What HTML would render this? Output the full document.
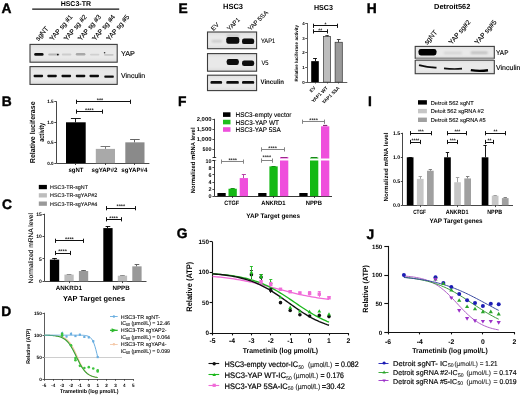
<!DOCTYPE html>
<html><head><meta charset="utf-8"><title>Figure</title>
<style>
html,body{margin:0;padding:0;background:#fff;width:520px;height:396px;overflow:hidden}
svg{display:block}
text{font-family:"Liberation Sans", Arial, sans-serif;text-rendering:geometricPrecision}
</style></head><body>
<svg width="520" height="396" viewBox="0 0 520 396">
<defs>
<filter id="bl045" x="-0.3" y="-1" width="1.6" height="3"><feGaussianBlur stdDeviation="0.45"/></filter>
<filter id="bl08" x="-0.3" y="-1" width="1.6" height="3"><feGaussianBlur stdDeviation="0.8"/></filter>
<linearGradient id="boxg" x1="0" y1="0" x2="0" y2="1"><stop offset="0" stop-color="#dedede"/><stop offset="0.25" stop-color="#e9e9e9"/><stop offset="0.75" stop-color="#e9e9e9"/><stop offset="1" stop-color="#dcdcdc"/></linearGradient>
</defs>
<rect width="520" height="396" fill="#fff"/>
<text x="1.5" y="12.7" font-size="13.8" font-weight="bold" stroke="#000" stroke-width="0.4">A</text>
<text x="75.8" y="5.6" font-size="7" font-weight="bold" text-anchor="middle">HSC3-TR</text>
<line x1="32.2" y1="9.2" x2="119.2" y2="9.2" stroke="#111" stroke-width="1.3"/>
<text x="38.5" y="41.2" font-size="6.8" stroke="#000" stroke-width="0.13" transform="rotate(-50 38.5 41.2)">sgNT</text>
<text x="52.7" y="41.2" font-size="6.8" stroke="#000" stroke-width="0.13" transform="rotate(-50 52.7 41.2)">YAP sg #1</text>
<text x="66.9" y="41.2" font-size="6.8" stroke="#000" stroke-width="0.13" transform="rotate(-50 66.9 41.2)">YAP sg #2</text>
<text x="81.1" y="41.2" font-size="6.8" stroke="#000" stroke-width="0.13" transform="rotate(-50 81.1 41.2)">YAP sg #3</text>
<text x="95.3" y="41.2" font-size="6.8" stroke="#000" stroke-width="0.13" transform="rotate(-50 95.3 41.2)">YAP sg #4</text>
<text x="109.5" y="41.2" font-size="6.8" stroke="#000" stroke-width="0.13" transform="rotate(-50 109.5 41.2)">YAP sg #5</text>
<rect x="30" y="44.4" width="87.2" height="17.8" fill="url(#boxg)" stroke="#3c3c3c" stroke-width="1.1"/>
<rect x="30" y="66.6" width="87.2" height="17.8" fill="url(#boxg)" stroke="#3c3c3c" stroke-width="1.1"/>
<rect x="34.2" y="53" width="9.4" height="2.8" rx="1.4" fill="#0c0c0c" filter="url(#bl045)"/>
<rect x="48.2" y="53.5" width="11.3" height="2" rx="1" fill="#b8b8b8" filter="url(#bl045)"/>
<rect x="61.8" y="53.4" width="9.6" height="2" rx="1" fill="#cdcdcd" filter="url(#bl045)"/>
<rect x="75.8" y="53" width="9.6" height="2.4" rx="1.2" fill="#a8a8a8" filter="url(#bl045)"/>
<rect x="90" y="53.7" width="9.4" height="1.8" rx="0.9" fill="#d0d0d0" filter="url(#bl045)"/>
<rect x="104" y="53.9" width="9.6" height="1.8" rx="0.9" fill="#c6c6c6" filter="url(#bl045)"/>
<circle cx="57.8" cy="54.6" r="0.9" fill="#111"/>
<circle cx="104.6" cy="52.8" r="0.8" fill="#333"/>
<rect x="33.6" y="74.85" width="9.5" height="2.3" rx="0.8" fill="#0e0e0e" filter="url(#bl045)"/>
<rect x="47.3" y="74.85" width="9.5" height="2.3" rx="0.8" fill="#0e0e0e" filter="url(#bl045)"/>
<rect x="61.5" y="74.85" width="9.6" height="2.3" rx="0.8" fill="#0e0e0e" filter="url(#bl045)"/>
<rect x="75.8" y="74.85" width="9.5" height="2.3" rx="0.8" fill="#0e0e0e" filter="url(#bl045)"/>
<rect x="89.5" y="74.85" width="9.5" height="2.3" rx="0.8" fill="#0e0e0e" filter="url(#bl045)"/>
<rect x="104.3" y="75.55" width="9.5" height="2.3" rx="0.8" fill="#0e0e0e" filter="url(#bl045)"/>
<text x="121" y="55.5" font-size="7" stroke="#000" stroke-width="0.14" textLength="13.9" lengthAdjust="spacingAndGlyphs">YAP</text>
<text x="121" y="77.7" font-size="7" stroke="#000" stroke-width="0.14" textLength="24.2" lengthAdjust="spacingAndGlyphs">Vinculin</text>
<text x="1.8" y="105.7" font-size="13.8" font-weight="bold" stroke="#000" stroke-width="0.4">B</text>
<line x1="56.5" y1="101.35" x2="56.5" y2="163.2" stroke="#333" stroke-width="0.9"/>
<line x1="56.5" y1="163.5" x2="149.4" y2="163.5" stroke="#333" stroke-width="0.9"/>
<line x1="54.3" y1="163.5" x2="56.5" y2="163.5" stroke="#333" stroke-width="0.9"/>
<text x="53.6" y="164.8" font-size="4.6" font-weight="bold" text-anchor="end">0.0</text>
<line x1="54.3" y1="142.5" x2="56.5" y2="142.5" stroke="#333" stroke-width="0.9"/>
<text x="53.6" y="144.35" font-size="4.6" font-weight="bold" text-anchor="end">0.5</text>
<line x1="54.3" y1="122.5" x2="56.5" y2="122.5" stroke="#333" stroke-width="0.9"/>
<text x="53.6" y="123.9" font-size="4.6" font-weight="bold" text-anchor="end">1.0</text>
<line x1="54.3" y1="101.5" x2="56.5" y2="101.5" stroke="#333" stroke-width="0.9"/>
<text x="53.6" y="103.45" font-size="4.6" font-weight="bold" text-anchor="end">1.5</text>
<text x="35.2" y="132.3" font-size="7.2" font-weight="bold" text-anchor="middle" transform="rotate(-90 35.2 132.3)" textLength="61.8" lengthAdjust="spacingAndGlyphs">Relative luciferase</text>
<text x="44.1" y="132.3" font-size="7.2" font-weight="bold" text-anchor="middle" transform="rotate(-90 44.1 132.3)" textLength="19" lengthAdjust="spacingAndGlyphs">activity</text>
<rect x="66" y="122.3" width="19.7" height="40.9" fill="#000"/>
<line x1="75.5" y1="122.3" x2="75.5" y2="118.62" stroke="#000" stroke-width="0.9"/>
<line x1="70.92" y1="118.5" x2="80.77" y2="118.5" stroke="#000" stroke-width="0.9"/>
<rect x="95.8" y="148.88" width="19.2" height="14.31" fill="#a9a9a9"/>
<line x1="105.5" y1="148.88" x2="105.5" y2="146.84" stroke="#666" stroke-width="0.9"/>
<line x1="100.6" y1="146.5" x2="110.2" y2="146.5" stroke="#666" stroke-width="0.9"/>
<rect x="125.3" y="142.34" width="19.2" height="20.86" fill="#8a8a8a"/>
<line x1="134.5" y1="142.34" x2="134.5" y2="139.89" stroke="#555" stroke-width="0.9"/>
<line x1="130.1" y1="139.5" x2="139.7" y2="139.5" stroke="#555" stroke-width="0.9"/>
<line x1="75.5" y1="163.2" x2="75.5" y2="165" stroke="#333" stroke-width="0.9"/>
<line x1="105.5" y1="163.2" x2="105.5" y2="165" stroke="#333" stroke-width="0.9"/>
<line x1="134.5" y1="163.2" x2="134.5" y2="165" stroke="#333" stroke-width="0.9"/>
<line x1="76.2" y1="101.5" x2="130.8" y2="101.5" stroke="#111" stroke-width="1"/>
<line x1="76.5" y1="99.7" x2="76.5" y2="103.9" stroke="#111" stroke-width="1"/>
<line x1="130.5" y1="99.7" x2="130.5" y2="103.9" stroke="#111" stroke-width="1"/>
<text x="100" y="102" font-size="5.5" font-weight="bold" text-anchor="middle" fill="#111">***</text>
<line x1="76.2" y1="111.5" x2="102.5" y2="111.5" stroke="#111" stroke-width="1"/>
<line x1="76.5" y1="109.5" x2="76.5" y2="113.7" stroke="#111" stroke-width="1"/>
<line x1="102.5" y1="109.5" x2="102.5" y2="113.7" stroke="#111" stroke-width="1"/>
<text x="89.35" y="111.8" font-size="5.5" font-weight="bold" text-anchor="middle" fill="#111">****</text>
<text x="68.5" y="172.2" font-size="6.3" font-weight="bold" textLength="15" lengthAdjust="spacingAndGlyphs">sgNT</text>
<text x="91.5" y="172.2" font-size="6.3" font-weight="bold" textLength="26" lengthAdjust="spacingAndGlyphs">sgYAP#2</text>
<text x="121.3" y="172.2" font-size="6.3" font-weight="bold" textLength="26" lengthAdjust="spacingAndGlyphs">sgYAP#4</text>
<rect x="38.8" y="184.9" width="8.1" height="4.3" fill="#000"/>
<text x="50" y="189.1" font-size="5.4" stroke="#000" stroke-width="0.08">HSC3-TR-sgNT</text>
<rect x="38.8" y="193.2" width="8.1" height="4.3" fill="#bdbdbd"/>
<text x="50" y="197.4" font-size="5.4" stroke="#000" stroke-width="0.08">HSC3-TR-sgYAP#2</text>
<rect x="38.8" y="201.5" width="8.1" height="4.3" fill="#999"/>
<text x="50" y="205.7" font-size="5.4" stroke="#000" stroke-width="0.08">HSC3-TR-sgYAP#4</text>
<text x="2" y="209.2" font-size="13.8" font-weight="bold" stroke="#000" stroke-width="0.4">C</text>
<line x1="44.5" y1="213.75" x2="44.5" y2="281.3" stroke="#333" stroke-width="0.9"/>
<line x1="44.5" y1="281.5" x2="146.5" y2="281.5" stroke="#333" stroke-width="0.9"/>
<line x1="42.5" y1="281.5" x2="44.5" y2="281.5" stroke="#333" stroke-width="0.9"/>
<text x="41.8" y="283" font-size="5" font-weight="bold" text-anchor="end">0</text>
<line x1="42.5" y1="258.5" x2="44.5" y2="258.5" stroke="#333" stroke-width="0.9"/>
<text x="41.8" y="260.65" font-size="5" font-weight="bold" text-anchor="end">5</text>
<line x1="42.5" y1="236.5" x2="44.5" y2="236.5" stroke="#333" stroke-width="0.9"/>
<text x="41.8" y="238.3" font-size="5" font-weight="bold" text-anchor="end">10</text>
<line x1="42.5" y1="214.5" x2="44.5" y2="214.5" stroke="#333" stroke-width="0.9"/>
<text x="41.8" y="215.95" font-size="5" font-weight="bold" text-anchor="end">15</text>
<text x="32.6" y="248.2" font-size="6.6" text-anchor="middle" stroke="#000" stroke-width="0.11" transform="rotate(-90 32.6 248.2)" textLength="70.4" lengthAdjust="spacingAndGlyphs">Normalized mRNA level</text>
<rect x="49.9" y="259.62" width="9.3" height="21.68" fill="#000"/>
<line x1="54.5" y1="259.62" x2="54.5" y2="258.06" stroke="#000" stroke-width="0.9"/>
<line x1="52.22" y1="258.5" x2="56.88" y2="258.5" stroke="#000" stroke-width="0.9"/>
<rect x="64.4" y="274.6" width="9.3" height="6.7" fill="#bdbdbd"/>
<line x1="69.5" y1="274.6" x2="69.5" y2="274.15" stroke="#888" stroke-width="0.9"/>
<line x1="66.73" y1="274.5" x2="71.38" y2="274.5" stroke="#888" stroke-width="0.9"/>
<rect x="78.9" y="271.02" width="9.3" height="10.28" fill="#999"/>
<line x1="83.5" y1="271.02" x2="83.5" y2="270.12" stroke="#555" stroke-width="0.9"/>
<line x1="81.23" y1="270.5" x2="85.88" y2="270.5" stroke="#555" stroke-width="0.9"/>
<rect x="103.3" y="228.11" width="9.3" height="53.19" fill="#000"/>
<line x1="107.5" y1="228.11" x2="107.5" y2="226.32" stroke="#000" stroke-width="0.9"/>
<line x1="105.62" y1="226.5" x2="110.28" y2="226.5" stroke="#000" stroke-width="0.9"/>
<rect x="117.8" y="275.71" width="9.3" height="5.59" fill="#bdbdbd"/>
<line x1="122.5" y1="275.71" x2="122.5" y2="275.04" stroke="#888" stroke-width="0.9"/>
<line x1="120.12" y1="275.5" x2="124.78" y2="275.5" stroke="#888" stroke-width="0.9"/>
<rect x="132.3" y="266.33" width="9.3" height="14.97" fill="#999"/>
<line x1="136.5" y1="266.33" x2="136.5" y2="264.76" stroke="#555" stroke-width="0.9"/>
<line x1="134.63" y1="264.5" x2="139.28" y2="264.5" stroke="#555" stroke-width="0.9"/>
<line x1="69.5" y1="281.3" x2="69.5" y2="283.1" stroke="#333" stroke-width="0.9"/>
<line x1="122.5" y1="281.3" x2="122.5" y2="283.1" stroke="#333" stroke-width="0.9"/>
<line x1="55" y1="240.5" x2="83.8" y2="240.5" stroke="#111" stroke-width="1"/>
<line x1="55.5" y1="238.7" x2="55.5" y2="242.9" stroke="#111" stroke-width="1"/>
<line x1="83.5" y1="238.7" x2="83.5" y2="242.9" stroke="#111" stroke-width="1"/>
<text x="69.4" y="241" font-size="5.5" font-weight="bold" text-anchor="middle" fill="#111">****</text>
<line x1="55" y1="253.5" x2="70" y2="253.5" stroke="#111" stroke-width="1"/>
<line x1="55.5" y1="250.9" x2="55.5" y2="255.1" stroke="#111" stroke-width="1"/>
<line x1="70.5" y1="250.9" x2="70.5" y2="255.1" stroke="#111" stroke-width="1"/>
<text x="62.5" y="253.2" font-size="5.5" font-weight="bold" text-anchor="middle" fill="#111">****</text>
<line x1="106" y1="208.5" x2="135.6" y2="208.5" stroke="#111" stroke-width="1"/>
<line x1="106.5" y1="206.1" x2="106.5" y2="210.3" stroke="#111" stroke-width="1"/>
<line x1="135.5" y1="206.1" x2="135.5" y2="210.3" stroke="#111" stroke-width="1"/>
<text x="120.8" y="208.4" font-size="5.5" font-weight="bold" text-anchor="middle" fill="#111">****</text>
<line x1="106" y1="219.5" x2="121.2" y2="219.5" stroke="#111" stroke-width="1"/>
<line x1="106.5" y1="217.2" x2="106.5" y2="221.4" stroke="#111" stroke-width="1"/>
<line x1="121.5" y1="217.2" x2="121.5" y2="221.4" stroke="#111" stroke-width="1"/>
<text x="113.6" y="219.5" font-size="5.5" font-weight="bold" text-anchor="middle" fill="#111">****</text>
<text x="55.8" y="290.1" font-size="6.3" font-weight="bold" textLength="26.1" lengthAdjust="spacingAndGlyphs">ANKRD1</text>
<text x="112.4" y="290.1" font-size="6.3" font-weight="bold" textLength="17.3" lengthAdjust="spacingAndGlyphs">NPPB</text>
<text x="63" y="301.3" font-size="7.3" font-weight="bold" textLength="62" lengthAdjust="spacingAndGlyphs">YAP Target genes</text>
<text x="1.2" y="315.8" font-size="13.8" font-weight="bold" stroke="#000" stroke-width="0.4">D</text>
<line x1="44.5" y1="312.73" x2="44.5" y2="379" stroke="#333" stroke-width="0.8"/>
<line x1="44.3" y1="379.5" x2="133.3" y2="379.5" stroke="#333" stroke-width="0.8"/>
<line x1="42.5" y1="379.5" x2="44.3" y2="379.5" stroke="#333" stroke-width="0.8"/>
<text x="41.8" y="380.6" font-size="4.7" font-weight="bold" text-anchor="end">0</text>
<line x1="42.5" y1="357.5" x2="44.3" y2="357.5" stroke="#333" stroke-width="0.8"/>
<text x="41.8" y="358.68" font-size="4.7" font-weight="bold" text-anchor="end">50</text>
<line x1="42.5" y1="335.5" x2="44.3" y2="335.5" stroke="#333" stroke-width="0.8"/>
<text x="41.8" y="336.75" font-size="4.7" font-weight="bold" text-anchor="end">100</text>
<line x1="42.5" y1="313.5" x2="44.3" y2="313.5" stroke="#333" stroke-width="0.8"/>
<text x="41.8" y="314.83" font-size="4.7" font-weight="bold" text-anchor="end">150</text>
<line x1="44.5" y1="379" x2="44.5" y2="380.8" stroke="#333" stroke-width="0.8"/>
<text x="44.3" y="386.9" font-size="4.6" font-weight="bold" text-anchor="middle">-5</text>
<line x1="53.5" y1="379" x2="53.5" y2="380.8" stroke="#333" stroke-width="0.8"/>
<text x="53.2" y="386.9" font-size="4.6" font-weight="bold" text-anchor="middle">-4</text>
<line x1="62.5" y1="379" x2="62.5" y2="380.8" stroke="#333" stroke-width="0.8"/>
<text x="62.1" y="386.9" font-size="4.6" font-weight="bold" text-anchor="middle">-3</text>
<line x1="71.5" y1="379" x2="71.5" y2="380.8" stroke="#333" stroke-width="0.8"/>
<text x="71" y="386.9" font-size="4.6" font-weight="bold" text-anchor="middle">-2</text>
<line x1="79.5" y1="379" x2="79.5" y2="380.8" stroke="#333" stroke-width="0.8"/>
<text x="79.9" y="386.9" font-size="4.6" font-weight="bold" text-anchor="middle">-1</text>
<line x1="88.5" y1="379" x2="88.5" y2="380.8" stroke="#333" stroke-width="0.8"/>
<text x="88.8" y="386.9" font-size="4.6" font-weight="bold" text-anchor="middle">0</text>
<line x1="97.5" y1="379" x2="97.5" y2="380.8" stroke="#333" stroke-width="0.8"/>
<text x="97.7" y="386.9" font-size="4.6" font-weight="bold" text-anchor="middle">1</text>
<line x1="106.5" y1="379" x2="106.5" y2="380.8" stroke="#333" stroke-width="0.8"/>
<text x="106.6" y="386.9" font-size="4.6" font-weight="bold" text-anchor="middle">2</text>
<line x1="115.5" y1="379" x2="115.5" y2="380.8" stroke="#333" stroke-width="0.8"/>
<text x="115.5" y="386.9" font-size="4.6" font-weight="bold" text-anchor="middle">3</text>
<line x1="124.5" y1="379" x2="124.5" y2="380.8" stroke="#333" stroke-width="0.8"/>
<text x="124.4" y="386.9" font-size="4.6" font-weight="bold" text-anchor="middle">4</text>
<line x1="133.5" y1="379" x2="133.5" y2="380.8" stroke="#333" stroke-width="0.8"/>
<text x="133.3" y="386.9" font-size="4.6" font-weight="bold" text-anchor="middle">5</text>
<text x="60" y="393.2" font-size="5.6" font-weight="bold" textLength="58.6" lengthAdjust="spacingAndGlyphs">Trametinib (log µmol/L)</text>
<text x="30.4" y="346.3" font-size="5.4" font-weight="bold" text-anchor="middle" transform="rotate(-90 30.4 346.3)" textLength="35" lengthAdjust="spacingAndGlyphs">Relative (ATP)</text>
<line x1="44.3" y1="357.5" x2="122" y2="357.5" stroke="#c8c8c8" stroke-width="0.9"/>
<path d="M44.3 335.2 L45.19 335.21 L46.08 335.22 L46.97 335.23 L47.86 335.25 L48.75 335.27 L49.64 335.29 L50.53 335.32 L51.42 335.35 L52.31 335.4 L53.2 335.45 L54.09 335.5 L54.98 335.58 L55.87 335.66 L56.76 335.76 L57.65 335.88 L58.54 336.03 L59.43 336.2 L60.32 336.41 L61.21 336.66 L62.1 336.95 L62.99 337.29 L63.88 337.7 L64.77 338.18 L65.66 338.74 L66.55 339.4 L67.44 340.16 L68.33 341.03 L69.22 342.03 L70.11 343.16 L71 344.43 L71.89 345.84 L72.78 347.39 L73.67 349.06 L74.56 350.85 L75.45 352.72 L76.34 354.66 L77.23 356.64 L78.12 358.61 L79.01 360.55 L79.9 362.43 L80.79 364.21 L81.68 365.89 L82.57 367.43 L83.46 368.84 L84.35 370.11 L85.24 371.25 L86.13 372.24 L87.02 373.12 L87.91 373.88 L88.8 374.53 L89.69 375.09 L90.58 375.57 L91.47 375.98 L92.36 376.33 L93.25 376.62 L94.14 376.86 L95.03 377.07 L95.92 377.24 L96.81 377.39 L97.7 377.51" stroke="#f2c49a" stroke-width="1.1" fill="none"/>
<path d="M44.3 335.24 L45.19 335.25 L46.08 335.27 L46.97 335.29 L47.86 335.32 L48.75 335.35 L49.64 335.39 L50.53 335.44 L51.42 335.49 L52.31 335.55 L53.2 335.63 L54.09 335.72 L54.98 335.82 L55.87 335.94 L56.76 336.09 L57.65 336.26 L58.54 336.47 L59.43 336.71 L60.32 336.99 L61.21 337.32 L62.1 337.7 L62.99 338.15 L63.88 338.67 L64.77 339.27 L65.66 339.96 L66.55 340.74 L67.44 341.64 L68.33 342.65 L69.22 343.78 L70.11 345.03 L71 346.4 L71.89 347.9 L72.78 349.5 L73.67 351.19 L74.56 352.96 L75.45 354.79 L76.34 356.64 L77.23 358.49 L78.12 360.31 L79.01 362.08 L79.9 363.78 L80.79 365.38 L81.68 366.87 L82.57 368.24 L83.46 369.5 L84.35 370.63 L85.24 371.63 L86.13 372.53 L87.02 373.32 L87.91 374.01 L88.8 374.61 L89.69 375.13 L90.58 375.57 L91.47 375.96 L92.36 376.29 L93.25 376.57 L94.14 376.81 L95.03 377.01 L95.92 377.18 L96.81 377.33 L97.7 377.45" stroke="#2f9e2f" stroke-width="1.1" fill="none"/>
<path d="M44.3 335.15 L45.19 335.15 L46.08 335.15 L46.97 335.15 L47.86 335.15 L48.75 335.15 L49.64 335.15 L50.53 335.15 L51.42 335.15 L52.31 335.15 L53.2 335.15 L54.09 335.15 L54.98 335.15 L55.87 335.15 L56.76 335.15 L57.65 335.15 L58.54 335.15 L59.43 335.15 L60.32 335.15 L61.21 335.15 L62.1 335.15 L62.99 335.15 L63.88 335.15 L64.77 335.15 L65.66 335.15 L66.55 335.15 L67.44 335.15 L68.33 335.15 L69.22 335.15 L70.11 335.15 L71 335.15 L71.89 335.15 L72.78 335.15 L73.67 335.15 L74.56 335.16 L75.45 335.16 L76.34 335.16 L77.23 335.17 L78.12 335.17 L79.01 335.18 L79.9 335.19 L80.79 335.21 L81.68 335.24 L82.57 335.27 L83.46 335.32 L84.35 335.4 L85.24 335.5 L86.13 335.64 L87.02 335.83 L87.91 336.11 L88.8 336.49 L89.69 337.02 L90.58 337.75 L91.47 338.74 L92.36 340.05 L93.25 341.77 L94.14 343.95 L95.03 346.63 L95.92 349.79 L96.81 353.33 L97.7 357.07" stroke="#6aaee0" stroke-width="1" fill="none"/>
<line x1="62.5" y1="335.15" x2="62.5" y2="331.64" stroke="#6aaee0" stroke-width="0.8"/>
<rect x="61" y="332.3" width="2.2" height="2.2" fill="#6aaee0"/>
<rect x="61" y="334.49" width="2.2" height="2.2" fill="#6aaee0"/>
<line x1="66.5" y1="337.34" x2="66.5" y2="335.59" stroke="#6aaee0" stroke-width="0.8"/>
<rect x="65.45" y="335.37" width="2.2" height="2.2" fill="#6aaee0"/>
<line x1="71.5" y1="335.15" x2="71.5" y2="332.52" stroke="#6aaee0" stroke-width="0.8"/>
<rect x="69.9" y="332.73" width="2.2" height="2.2" fill="#6aaee0"/>
<rect x="74.35" y="334.93" width="2.2" height="2.2" fill="#6aaee0"/>
<line x1="79.5" y1="335.59" x2="79.5" y2="333.83" stroke="#6aaee0" stroke-width="0.8"/>
<rect x="78.8" y="333.61" width="2.2" height="2.2" fill="#6aaee0"/>
<rect x="83.25" y="335.8" width="2.2" height="2.2" fill="#6aaee0"/>
<line x1="88.5" y1="338.22" x2="88.5" y2="336.47" stroke="#6aaee0" stroke-width="0.8"/>
<rect x="87.7" y="336.24" width="2.2" height="2.2" fill="#6aaee0"/>
<line x1="93.5" y1="342.17" x2="93.5" y2="340.41" stroke="#6aaee0" stroke-width="0.8"/>
<rect x="92.15" y="340.19" width="2.2" height="2.2" fill="#6aaee0"/>
<rect x="96.6" y="355.97" width="2.2" height="2.2" fill="#6aaee0"/>
<circle cx="62.1" cy="333.83" r="1.3" fill="#3cc43c"/>
<circle cx="62.1" cy="335.59" r="1.3" fill="#3cc43c"/>
<circle cx="71" cy="345.24" r="1.3" fill="#3cc43c"/>
<circle cx="75.45" cy="357.95" r="1.3" fill="#3cc43c"/>
<circle cx="75.45" cy="360.14" r="1.3" fill="#3cc43c"/>
<circle cx="79.9" cy="365.85" r="1.3" fill="#3cc43c"/>
<circle cx="84.35" cy="368.04" r="1.3" fill="#3cc43c"/>
<circle cx="88.8" cy="367.16" r="1.3" fill="#3cc43c"/>
<circle cx="93.25" cy="368.48" r="1.3" fill="#3cc43c"/>
<circle cx="97.7" cy="370.23" r="1.3" fill="#3cc43c"/>
<circle cx="97.7" cy="371.55" r="1.3" fill="#3cc43c"/>
<line x1="110" y1="316.5" x2="117.7" y2="316.5" stroke="#6aaee0" stroke-width="0.9"/>
<circle cx="113.9" cy="316.5" r="1.2" fill="#6aaee0"/>
<text x="120.8" y="318.5" font-size="5.5" stroke="#000" stroke-width="0.08" textLength="39.2" lengthAdjust="spacingAndGlyphs">HSC3-TR sgNT-</text>
<text x="120.8" y="325.4" font-size="5.5" stroke="#000" stroke-width="0.08" textLength="49.2" lengthAdjust="spacingAndGlyphs">IC<tspan font-size="3.8" dy="1">50</tspan><tspan dy="-1"> (µmol/L) = 12.46</tspan></text>
<line x1="110" y1="330.35" x2="117.7" y2="330.35" stroke="#2fb82f" stroke-width="1.3"/>
<path d="M111.6 328.15 L116.6 330.35 L111.6 332.55 Z" stroke="none" stroke-width="0" fill="#2fb82f"/>
<text x="120.8" y="332.35" font-size="5.5" stroke="#000" stroke-width="0.08" textLength="45.7" lengthAdjust="spacingAndGlyphs">HSC3-TR sgYAP2-</text>
<text x="120.8" y="339.25" font-size="5.5" stroke="#000" stroke-width="0.08" textLength="49.2" lengthAdjust="spacingAndGlyphs">IC<tspan font-size="3.8" dy="1">50</tspan><tspan dy="-1"> (µmol/L) = 0.064</tspan></text>
<line x1="110" y1="344.5" x2="117.7" y2="344.5" stroke="#f4c8a8" stroke-width="0.9"/>
<circle cx="113.9" cy="344.2" r="1.2" fill="#f4c8a8"/>
<text x="120.8" y="346.2" font-size="5.5" stroke="#000" stroke-width="0.08" textLength="45.7" lengthAdjust="spacingAndGlyphs">HSC3-TR sgYAP4-</text>
<text x="120.8" y="353.1" font-size="5.5" stroke="#000" stroke-width="0.08" textLength="49.2" lengthAdjust="spacingAndGlyphs">IC<tspan font-size="3.8" dy="1">50</tspan><tspan dy="-1"> (µmol/L) = 0.099</tspan></text>
<text x="178.6" y="12.9" font-size="13.8" font-weight="bold" stroke="#000" stroke-width="0.4">E</text>
<text x="233" y="9.1" font-size="7.5" font-weight="bold" text-anchor="middle">HSC3</text>
<text x="213.5" y="31" font-size="6.2" stroke="#000" stroke-width="0.08" transform="rotate(-45 213.5 31)">EV</text>
<text x="229.6" y="31" font-size="6.2" stroke="#000" stroke-width="0.08" transform="rotate(-45 229.6 31)">YAP1</text>
<text x="250.5" y="31" font-size="6.2" stroke="#000" stroke-width="0.08" transform="rotate(-45 250.5 31)">YAP 5SA</text>
<rect x="207.5" y="32" width="49.1" height="16.7" fill="url(#boxg)" stroke="#3c3c3c" stroke-width="1.1"/>
<rect x="207.5" y="53.6" width="49.1" height="17.6" fill="url(#boxg)" stroke="#3c3c3c" stroke-width="1.1"/>
<rect x="207.5" y="75.2" width="49.1" height="15.4" fill="url(#boxg)" stroke="#3c3c3c" stroke-width="1.1"/>
<rect x="211.5" y="40.3" width="10.5" height="2" rx="1" fill="#c2c2c2" filter="url(#bl08)"/>
<rect x="226.5" y="34.8" width="12.8" height="2" rx="1" fill="#bdbdbd" filter="url(#bl08)"/>
<rect x="226.3" y="37" width="13" height="6.8" rx="2.2" fill="#080808" filter="url(#bl045)"/>
<rect x="242" y="38.5" width="12.2" height="5.6" rx="2.2" fill="#0a0a0a" filter="url(#bl045)"/>
<rect x="226.7" y="59.1" width="12.1" height="5.8" rx="2.2" fill="#080808" filter="url(#bl045)"/>
<rect x="242" y="60.5" width="12.2" height="5.4" rx="2.2" fill="#0a0a0a" filter="url(#bl045)"/>
<rect x="210.5" y="80.95" width="11.6" height="2.9" rx="1.2" fill="#0c0c0c" filter="url(#bl045)"/>
<rect x="226.3" y="80.95" width="12.5" height="2.9" rx="1.2" fill="#0c0c0c" filter="url(#bl045)"/>
<rect x="242" y="80.95" width="12.2" height="2.9" rx="1.2" fill="#0c0c0c" filter="url(#bl045)"/>
<text x="261" y="42.6" font-size="6.5" stroke="#000" stroke-width="0.11" textLength="14.1" lengthAdjust="spacingAndGlyphs">YAP1</text>
<text x="261.5" y="64.6" font-size="6.5" stroke="#000" stroke-width="0.11" textLength="7.1" lengthAdjust="spacingAndGlyphs">V5</text>
<text x="260.5" y="84" font-size="6.5" font-weight="bold" textLength="23.5" lengthAdjust="spacingAndGlyphs">Vinculin</text>
<text x="313.9" y="9.8" font-size="7.3" font-weight="bold" textLength="19" lengthAdjust="spacingAndGlyphs">HSC3</text>
<line x1="307.5" y1="23" x2="307.5" y2="82.1" stroke="#333" stroke-width="0.8"/>
<line x1="307" y1="82.5" x2="347.3" y2="82.5" stroke="#333" stroke-width="0.8"/>
<line x1="305.2" y1="82.5" x2="307" y2="82.5" stroke="#333" stroke-width="0.8"/>
<text x="304.6" y="83.6" font-size="4.4" font-weight="bold" text-anchor="end">0</text>
<line x1="305.2" y1="67.5" x2="307" y2="67.5" stroke="#333" stroke-width="0.8"/>
<text x="304.6" y="68.95" font-size="4.4" font-weight="bold" text-anchor="end">1</text>
<line x1="305.2" y1="52.5" x2="307" y2="52.5" stroke="#333" stroke-width="0.8"/>
<text x="304.6" y="54.3" font-size="4.4" font-weight="bold" text-anchor="end">2</text>
<line x1="305.2" y1="38.5" x2="307" y2="38.5" stroke="#333" stroke-width="0.8"/>
<text x="304.6" y="39.65" font-size="4.4" font-weight="bold" text-anchor="end">3</text>
<line x1="305.2" y1="23.5" x2="307" y2="23.5" stroke="#333" stroke-width="0.8"/>
<text x="304.6" y="25" font-size="4.4" font-weight="bold" text-anchor="end">4</text>
<text x="297.8" y="53.3" font-size="4.7" font-weight="bold" text-anchor="middle" transform="rotate(-90 297.8 53.3)" textLength="56.6" lengthAdjust="spacingAndGlyphs">Relative luciferase activity</text>
<rect x="311.2" y="61.15" width="7.6" height="20.95" fill="#000"/>
<line x1="315.5" y1="61.15" x2="315.5" y2="58.66" stroke="#000" stroke-width="0.9"/>
<line x1="313.1" y1="58.5" x2="316.9" y2="58.5" stroke="#000" stroke-width="0.9"/>
<rect x="323.6" y="36.39" width="6.9" height="45.71" fill="#bdbdbd" stroke="#333" stroke-width="0.7"/>
<line x1="327.5" y1="36.39" x2="327.5" y2="35.22" stroke="#333" stroke-width="0.9"/>
<line x1="325.32" y1="35.5" x2="328.78" y2="35.5" stroke="#333" stroke-width="0.9"/>
<rect x="335.1" y="42.25" width="7.2" height="39.85" fill="#9a9a9a" stroke="#333" stroke-width="0.7"/>
<line x1="338.5" y1="42.25" x2="338.5" y2="39.61" stroke="#333" stroke-width="0.9"/>
<line x1="336.9" y1="39.5" x2="340.5" y2="39.5" stroke="#333" stroke-width="0.9"/>
<line x1="313.5" y1="25.5" x2="337.3" y2="25.5" stroke="#111" stroke-width="1"/>
<line x1="313.5" y1="23.7" x2="313.5" y2="27.9" stroke="#111" stroke-width="1"/>
<line x1="337.5" y1="23.7" x2="337.5" y2="27.9" stroke="#111" stroke-width="1"/>
<text x="325.4" y="26" font-size="5" font-weight="bold" text-anchor="middle" fill="#111">*</text>
<line x1="313.5" y1="31.5" x2="327.1" y2="31.5" stroke="#111" stroke-width="1"/>
<line x1="313.5" y1="29.3" x2="313.5" y2="33.5" stroke="#111" stroke-width="1"/>
<line x1="327.5" y1="29.3" x2="327.5" y2="33.5" stroke="#111" stroke-width="1"/>
<text x="320.3" y="31.6" font-size="5" font-weight="bold" text-anchor="middle" fill="#111">**</text>
<line x1="315.5" y1="82.1" x2="315.5" y2="83.6" stroke="#333" stroke-width="0.7"/>
<line x1="327.5" y1="82.1" x2="327.5" y2="83.6" stroke="#333" stroke-width="0.7"/>
<line x1="338.5" y1="82.1" x2="338.5" y2="83.6" stroke="#333" stroke-width="0.7"/>
<text x="316" y="88.2" font-size="4.8" font-weight="bold" text-anchor="end" transform="rotate(-45 316 88.2)">EV</text>
<text x="328.2" y="88.2" font-size="4.8" font-weight="bold" text-anchor="end" transform="rotate(-45 328.2 88.2)">YAP1 WT</text>
<text x="340" y="88.2" font-size="4.8" font-weight="bold" text-anchor="end" transform="rotate(-45 340 88.2)">YAP1 5SA</text>
<text x="177.9" y="106.1" font-size="13.8" font-weight="bold" stroke="#000" stroke-width="0.4">F</text>
<rect x="223" y="112.3" width="7.5" height="4.6" fill="#000"/>
<text x="235.6" y="117.1" font-size="6.7" stroke="#000" stroke-width="0.12" textLength="55.9" lengthAdjust="spacingAndGlyphs">HSC3-empty vector</text>
<rect x="223" y="119.75" width="7.5" height="4.6" fill="#1fbf1f"/>
<text x="235.6" y="124.55" font-size="6.7" stroke="#000" stroke-width="0.12" textLength="43.4" lengthAdjust="spacingAndGlyphs">HSC3-YAP WT</text>
<rect x="223" y="127.2" width="7.5" height="4.6" fill="#ee50dc"/>
<text x="235.6" y="132" font-size="6.7" stroke="#000" stroke-width="0.12" textLength="45.2" lengthAdjust="spacingAndGlyphs">HSC3-YAP 5SA</text>
<line x1="214.5" y1="196.2" x2="214.5" y2="160.1" stroke="#222" stroke-width="0.9"/>
<line x1="214.5" y1="157.9" x2="214.5" y2="118.8" stroke="#222" stroke-width="0.9"/>
<line x1="212.6" y1="157.5" x2="216.2" y2="157.5" stroke="#222" stroke-width="0.9"/>
<line x1="212.6" y1="160.5" x2="216.2" y2="160.5" stroke="#222" stroke-width="0.9"/>
<line x1="214.3" y1="196.5" x2="332" y2="196.5" stroke="#222" stroke-width="0.9"/>
<line x1="212.4" y1="196.5" x2="214.3" y2="196.5" stroke="#222" stroke-width="0.8"/>
<text x="211.6" y="198" font-size="5.4" font-weight="bold" text-anchor="end">0</text>
<line x1="212.4" y1="189.5" x2="214.3" y2="189.5" stroke="#222" stroke-width="0.8"/>
<text x="211.6" y="190.9" font-size="5.4" font-weight="bold" text-anchor="end">2</text>
<line x1="212.4" y1="182.5" x2="214.3" y2="182.5" stroke="#222" stroke-width="0.8"/>
<text x="211.6" y="183.8" font-size="5.4" font-weight="bold" text-anchor="end">4</text>
<line x1="212.4" y1="174.5" x2="214.3" y2="174.5" stroke="#222" stroke-width="0.8"/>
<text x="211.6" y="176.7" font-size="5.4" font-weight="bold" text-anchor="end">6</text>
<line x1="212.4" y1="167.5" x2="214.3" y2="167.5" stroke="#222" stroke-width="0.8"/>
<text x="211.6" y="169.6" font-size="5.4" font-weight="bold" text-anchor="end">8</text>
<line x1="212.4" y1="160.5" x2="214.3" y2="160.5" stroke="#222" stroke-width="0.8"/>
<text x="211.6" y="162.5" font-size="5.4" font-weight="bold" text-anchor="end">10</text>
<line x1="212.4" y1="149.5" x2="214.3" y2="149.5" stroke="#222" stroke-width="0.8"/>
<text x="211.6" y="151.4" font-size="5.4" font-weight="bold" text-anchor="end">500</text>
<line x1="212.4" y1="139.5" x2="214.3" y2="139.5" stroke="#222" stroke-width="0.8"/>
<text x="196.7" y="141.4" font-size="5.6" font-weight="bold" textLength="14.8" lengthAdjust="spacingAndGlyphs">1,000</text>
<line x1="212.4" y1="129.5" x2="214.3" y2="129.5" stroke="#222" stroke-width="0.8"/>
<text x="196.7" y="131.3" font-size="5.6" font-weight="bold" textLength="14.8" lengthAdjust="spacingAndGlyphs">1,500</text>
<line x1="212.4" y1="119.5" x2="214.3" y2="119.5" stroke="#222" stroke-width="0.8"/>
<text x="196.7" y="121.2" font-size="5.6" font-weight="bold" textLength="14.8" lengthAdjust="spacingAndGlyphs">2,000</text>
<text x="194.8" y="160.4" font-size="6" font-weight="bold" text-anchor="middle" transform="rotate(-90 194.8 160.4)" textLength="65.9" lengthAdjust="spacingAndGlyphs">Normalized mRNA level</text>
<rect x="217.4" y="193" width="8.3" height="3.19" fill="#000"/>
<rect x="228.5" y="188.74" width="8.3" height="7.46" fill="#14b914"/>
<line x1="232.5" y1="188.74" x2="232.5" y2="188.39" stroke="#0a8a0a" stroke-width="0.9"/>
<line x1="230.58" y1="188.5" x2="234.72" y2="188.5" stroke="#0a8a0a" stroke-width="0.9"/>
<rect x="239.7" y="178.09" width="8.3" height="18.1" fill="#ef4fdc"/>
<line x1="243.5" y1="178.09" x2="243.5" y2="174.54" stroke="#b0309e" stroke-width="0.9"/>
<line x1="241.78" y1="174.5" x2="245.92" y2="174.5" stroke="#b0309e" stroke-width="0.9"/>
<rect x="258.2" y="193" width="8.3" height="3.19" fill="#000"/>
<rect x="269.4" y="166.38" width="8.3" height="29.82" fill="#14b914"/>
<line x1="273.5" y1="166.38" x2="273.5" y2="166.02" stroke="#0a8a0a" stroke-width="0.9"/>
<line x1="271.47" y1="166.5" x2="275.62" y2="166.5" stroke="#0a8a0a" stroke-width="0.9"/>
<rect x="280" y="157" width="8.3" height="39.2" fill="#ef4fdc"/>
<line x1="281" y1="157.5" x2="287.3" y2="157.5" stroke="#8a2a7a" stroke-width="0.9"/>
<rect x="299.3" y="193" width="8.3" height="3.19" fill="#000"/>
<rect x="310" y="157.6" width="8.3" height="38.6" fill="#14b914"/>
<line x1="311" y1="157.5" x2="317.3" y2="157.5" stroke="#0a7a0a" stroke-width="0.9"/>
<rect x="321" y="126.3" width="8.3" height="69.9" fill="#ef4fdc"/>
<line x1="323" y1="125.5" x2="327.3" y2="125.5" stroke="#8a2a7a" stroke-width="1.2"/>
<rect x="215" y="158.5" width="118" height="2" fill="#fff"/>
<line x1="221.5" y1="161.5" x2="243.9" y2="161.5" stroke="#858585" stroke-width="1"/>
<line x1="221.5" y1="159.5" x2="221.5" y2="163.7" stroke="#858585" stroke-width="1"/>
<line x1="243.5" y1="159.5" x2="243.5" y2="163.7" stroke="#858585" stroke-width="1"/>
<text x="232.7" y="161.8" font-size="5.5" font-weight="bold" text-anchor="middle" fill="#222">****</text>
<line x1="261.2" y1="149.5" x2="284" y2="149.5" stroke="#858585" stroke-width="1"/>
<line x1="261.5" y1="147.3" x2="261.5" y2="151.5" stroke="#858585" stroke-width="1"/>
<line x1="284.5" y1="147.3" x2="284.5" y2="151.5" stroke="#858585" stroke-width="1"/>
<text x="272.6" y="149.6" font-size="5.5" font-weight="bold" text-anchor="middle" fill="#222">****</text>
<line x1="261.2" y1="160.5" x2="272.5" y2="160.5" stroke="#858585" stroke-width="1"/>
<line x1="261.5" y1="158.5" x2="261.5" y2="162.7" stroke="#858585" stroke-width="1"/>
<line x1="272.5" y1="158.5" x2="272.5" y2="162.7" stroke="#858585" stroke-width="1"/>
<text x="266.85" y="158.6" font-size="5.5" font-weight="bold" text-anchor="middle" fill="#222">****</text>
<line x1="302.5" y1="121.5" x2="324.7" y2="121.5" stroke="#858585" stroke-width="1"/>
<line x1="302.5" y1="119.6" x2="302.5" y2="123.8" stroke="#858585" stroke-width="1"/>
<line x1="324.5" y1="119.6" x2="324.5" y2="123.8" stroke="#858585" stroke-width="1"/>
<text x="313.6" y="121.9" font-size="5.5" font-weight="bold" text-anchor="middle" fill="#222">****</text>
<line x1="232.5" y1="196.2" x2="232.5" y2="198" stroke="#222" stroke-width="0.8"/>
<line x1="273.5" y1="196.2" x2="273.5" y2="198" stroke="#222" stroke-width="0.8"/>
<line x1="314.5" y1="196.2" x2="314.5" y2="198" stroke="#222" stroke-width="0.8"/>
<text x="224.2" y="205.4" font-size="6.3" font-weight="bold" textLength="15" lengthAdjust="spacingAndGlyphs">CTGF</text>
<text x="261.2" y="205.4" font-size="6.3" font-weight="bold" textLength="24.2" lengthAdjust="spacingAndGlyphs">ANKRD1</text>
<text x="305.7" y="205.4" font-size="6.3" font-weight="bold" textLength="16.2" lengthAdjust="spacingAndGlyphs">NPPB</text>
<text x="246.2" y="217.7" font-size="6.6" font-weight="bold" textLength="53.8" lengthAdjust="spacingAndGlyphs">YAP Target genes</text>
<text x="176.8" y="237.6" font-size="13.8" font-weight="bold" stroke="#000" stroke-width="0.4">G</text>
<line x1="212.5" y1="241.41" x2="212.5" y2="333" stroke="#111" stroke-width="1.1"/>
<line x1="212.1" y1="333.5" x2="348.9" y2="333.5" stroke="#111" stroke-width="1.1"/>
<line x1="209.6" y1="333.5" x2="212.1" y2="333.5" stroke="#111" stroke-width="1.1"/>
<text x="208.9" y="335.2" font-size="6.3" font-weight="bold" text-anchor="end">0</text>
<line x1="209.6" y1="302.5" x2="212.1" y2="302.5" stroke="#111" stroke-width="1.1"/>
<text x="208.9" y="304.83" font-size="6.3" font-weight="bold" text-anchor="end">50</text>
<line x1="209.6" y1="272.5" x2="212.1" y2="272.5" stroke="#111" stroke-width="1.1"/>
<text x="208.9" y="274.47" font-size="6.3" font-weight="bold" text-anchor="end">100</text>
<line x1="209.6" y1="241.5" x2="212.1" y2="241.5" stroke="#111" stroke-width="1.1"/>
<text x="208.9" y="244.1" font-size="6.3" font-weight="bold" text-anchor="end">150</text>
<line x1="212.5" y1="333" x2="212.5" y2="335.4" stroke="#111" stroke-width="1.1"/>
<text x="212.6" y="343.3" font-size="6.8" font-weight="bold" text-anchor="middle">-5</text>
<line x1="232.5" y1="333" x2="232.5" y2="335.4" stroke="#111" stroke-width="1.1"/>
<text x="232" y="343.3" font-size="6.8" font-weight="bold" text-anchor="middle">-4</text>
<line x1="251.5" y1="333" x2="251.5" y2="335.4" stroke="#111" stroke-width="1.1"/>
<text x="251.4" y="343.3" font-size="6.8" font-weight="bold" text-anchor="middle">-3</text>
<line x1="270.5" y1="333" x2="270.5" y2="335.4" stroke="#111" stroke-width="1.1"/>
<text x="270.8" y="343.3" font-size="6.8" font-weight="bold" text-anchor="middle">-2</text>
<line x1="290.5" y1="333" x2="290.5" y2="335.4" stroke="#111" stroke-width="1.1"/>
<text x="290.2" y="343.3" font-size="6.8" font-weight="bold" text-anchor="middle">-1</text>
<line x1="309.5" y1="333" x2="309.5" y2="335.4" stroke="#111" stroke-width="1.1"/>
<text x="309.6" y="343.3" font-size="6.8" font-weight="bold" text-anchor="middle">0</text>
<line x1="329.5" y1="333" x2="329.5" y2="335.4" stroke="#111" stroke-width="1.1"/>
<text x="329" y="343.3" font-size="6.8" font-weight="bold" text-anchor="middle">1</text>
<line x1="348.5" y1="333" x2="348.5" y2="335.4" stroke="#111" stroke-width="1.1"/>
<text x="348.4" y="343.3" font-size="6.8" font-weight="bold" text-anchor="middle">2</text>
<text x="242.8" y="353.3" font-size="7.1" font-weight="bold" textLength="75.3" lengthAdjust="spacingAndGlyphs">Trametinib (log µmol/L)</text>
<text x="192.1" y="286.7" font-size="8" font-weight="bold" text-anchor="middle" transform="rotate(-90 192.1 286.7)" textLength="50" lengthAdjust="spacingAndGlyphs">Relative (ATP)</text>
<path d="M212.6 276.48 L214.54 276.64 L216.48 276.82 L218.42 277.01 L220.36 277.21 L222.3 277.42 L224.24 277.64 L226.18 277.87 L228.12 278.12 L230.06 278.38 L232 278.66 L233.94 278.95 L235.88 279.25 L237.82 279.57 L239.76 279.91 L241.7 280.26 L243.64 280.62 L245.58 281 L247.52 281.39 L249.46 281.8 L251.4 282.22 L253.34 282.65 L255.28 283.1 L257.22 283.56 L259.16 284.03 L261.1 284.52 L263.04 285.01 L264.98 285.51 L266.92 286.02 L268.86 286.53 L270.8 287.05 L272.74 287.58 L274.68 288.1 L276.62 288.63 L278.56 289.15 L280.5 289.67 L282.44 290.19 L284.38 290.71 L286.32 291.22 L288.26 291.72 L290.2 292.21 L292.14 292.69 L294.08 293.16 L296.02 293.62 L297.96 294.07 L299.9 294.51 L301.84 294.93 L303.78 295.34 L305.72 295.73 L307.66 296.11 L309.6 296.47 L311.54 296.82 L313.48 297.15 L315.42 297.47 L317.36 297.78 L319.3 298.07 L321.24 298.34 L323.18 298.6 L325.12 298.85 L327.06 299.09 L329 299.31" stroke="#f06ad8" stroke-width="1.3" fill="none"/>
<path d="M212.6 273.75 L214.54 273.88 L216.48 274.02 L218.42 274.18 L220.36 274.34 L222.3 274.53 L224.24 274.72 L226.18 274.93 L228.12 275.16 L230.06 275.41 L232 275.68 L233.94 275.97 L235.88 276.29 L237.82 276.62 L239.76 276.99 L241.7 277.38 L243.64 277.8 L245.58 278.25 L247.52 278.74 L249.46 279.26 L251.4 279.81 L253.34 280.41 L255.28 281.04 L257.22 281.71 L259.16 282.42 L261.1 283.18 L263.04 283.97 L264.98 284.82 L266.92 285.7 L268.86 286.63 L270.8 287.61 L272.74 288.62 L274.68 289.68 L276.62 290.78 L278.56 291.91 L280.5 293.09 L282.44 294.29 L284.38 295.52 L286.32 296.78 L288.26 298.06 L290.2 299.35 L292.14 300.66 L294.08 301.98 L296.02 303.29 L297.96 304.61 L299.9 305.92 L301.84 307.21 L303.78 308.49 L305.72 309.75 L307.66 310.98 L309.6 312.18 L311.54 313.36 L313.48 314.49 L315.42 315.59 L317.36 316.65 L319.3 317.66 L321.24 318.64 L323.18 319.57 L325.12 320.45 L327.06 321.3 L329 322.09" stroke="#1db81d" stroke-width="1.3" fill="none"/>
<path d="M212.6 273.88 L214.54 274.03 L216.48 274.2 L218.42 274.38 L220.36 274.57 L222.3 274.79 L224.24 275.02 L226.18 275.27 L228.12 275.55 L230.06 275.84 L232 276.17 L233.94 276.52 L235.88 276.89 L237.82 277.3 L239.76 277.74 L241.7 278.22 L243.64 278.73 L245.58 279.29 L247.52 279.88 L249.46 280.51 L251.4 281.19 L253.34 281.91 L255.28 282.69 L257.22 283.5 L259.16 284.37 L261.1 285.29 L263.04 286.26 L264.98 287.27 L266.92 288.34 L268.86 289.45 L270.8 290.61 L272.74 291.81 L274.68 293.05 L276.62 294.32 L278.56 295.63 L280.5 296.97 L282.44 298.33 L284.38 299.71 L286.32 301.1 L288.26 302.5 L290.2 303.89 L292.14 305.29 L294.08 306.67 L296.02 308.03 L297.96 309.37 L299.9 310.69 L301.84 311.97 L303.78 313.22 L305.72 314.43 L307.66 315.59 L309.6 316.71 L311.54 317.79 L313.48 318.81 L315.42 319.79 L317.36 320.72 L319.3 321.6 L321.24 322.42 L323.18 323.2 L325.12 323.94 L327.06 324.63 L329 325.27" stroke="#111" stroke-width="1.4" fill="none"/>
<line x1="251.5" y1="278.95" x2="251.5" y2="270.45" stroke="#111" stroke-width="0.9"/>
<line x1="249.9" y1="270.5" x2="252.9" y2="270.5" stroke="#111" stroke-width="0.9"/>
<circle cx="251.4" cy="274.7" r="1.8" fill="#111"/>
<line x1="261.5" y1="280.16" x2="261.5" y2="274.09" stroke="#111" stroke-width="0.9"/>
<line x1="259.6" y1="274.5" x2="262.6" y2="274.5" stroke="#111" stroke-width="0.9"/>
<circle cx="261.1" cy="277.13" r="1.8" fill="#111"/>
<line x1="270.5" y1="292.92" x2="270.5" y2="288.06" stroke="#111" stroke-width="0.9"/>
<line x1="269.3" y1="288.5" x2="272.3" y2="288.5" stroke="#111" stroke-width="0.9"/>
<circle cx="270.8" cy="290.49" r="1.8" fill="#111"/>
<circle cx="280.5" cy="302.63" r="1.8" fill="#111"/>
<circle cx="290.2" cy="310.53" r="1.8" fill="#111"/>
<circle cx="299.9" cy="314.78" r="1.8" fill="#111"/>
<circle cx="309.6" cy="316" r="1.8" fill="#111"/>
<circle cx="319.3" cy="315.39" r="1.8" fill="#111"/>
<circle cx="329" cy="316.6" r="1.8" fill="#111"/>
<line x1="251.5" y1="278.34" x2="251.5" y2="266.2" stroke="#1db81d" stroke-width="0.9"/>
<line x1="249.9" y1="266.5" x2="252.9" y2="266.5" stroke="#1db81d" stroke-width="0.9"/>
<path d="M251.4 270.37 L249.5 273.67 L253.3 273.67 Z" stroke="none" stroke-width="0" fill="#1db81d"/>
<line x1="261.5" y1="278.95" x2="261.5" y2="274.09" stroke="#1db81d" stroke-width="0.9"/>
<line x1="259.6" y1="274.5" x2="262.6" y2="274.5" stroke="#1db81d" stroke-width="0.9"/>
<path d="M261.1 274.62 L259.2 277.92 L263 277.92 Z" stroke="none" stroke-width="0" fill="#1db81d"/>
<line x1="270.5" y1="285.63" x2="270.5" y2="279.56" stroke="#1db81d" stroke-width="0.9"/>
<line x1="269.3" y1="279.5" x2="272.3" y2="279.5" stroke="#1db81d" stroke-width="0.9"/>
<path d="M270.8 280.69 L268.9 283.99 L272.7 283.99 Z" stroke="none" stroke-width="0" fill="#1db81d"/>
<path d="M280.5 295.27 L278.6 298.57 L282.4 298.57 Z" stroke="none" stroke-width="0" fill="#1db81d"/>
<path d="M290.2 305.59 L288.3 308.89 L292.1 308.89 Z" stroke="none" stroke-width="0" fill="#1db81d"/>
<path d="M299.9 309.24 L298 312.54 L301.8 312.54 Z" stroke="none" stroke-width="0" fill="#1db81d"/>
<path d="M309.6 309.84 L307.7 313.14 L311.5 313.14 Z" stroke="none" stroke-width="0" fill="#1db81d"/>
<path d="M319.3 309.24 L317.4 312.54 L321.2 312.54 Z" stroke="none" stroke-width="0" fill="#1db81d"/>
<path d="M329 312.27 L327.1 315.57 L330.9 315.57 Z" stroke="none" stroke-width="0" fill="#1db81d"/>
<line x1="261.5" y1="283.81" x2="261.5" y2="280.16" stroke="#f06ad8" stroke-width="0.9"/>
<line x1="259.6" y1="280.5" x2="262.6" y2="280.5" stroke="#f06ad8" stroke-width="0.9"/>
<rect x="259.4" y="280.29" width="3.4" height="3.4" fill="#f06ad8"/>
<line x1="270.5" y1="286.24" x2="270.5" y2="282.59" stroke="#f06ad8" stroke-width="0.9"/>
<line x1="269.3" y1="282.5" x2="272.3" y2="282.5" stroke="#f06ad8" stroke-width="0.9"/>
<rect x="269.1" y="282.72" width="3.4" height="3.4" fill="#f06ad8"/>
<rect x="278.8" y="287.57" width="3.4" height="3.4" fill="#f06ad8"/>
<line x1="290.5" y1="292.92" x2="290.5" y2="290.49" stroke="#f06ad8" stroke-width="0.9"/>
<line x1="288.7" y1="290.5" x2="291.7" y2="290.5" stroke="#f06ad8" stroke-width="0.9"/>
<rect x="288.5" y="290" width="3.4" height="3.4" fill="#f06ad8"/>
<rect x="298.2" y="291.22" width="3.4" height="3.4" fill="#f06ad8"/>
<line x1="309.5" y1="295.35" x2="309.5" y2="291.7" stroke="#f06ad8" stroke-width="0.9"/>
<line x1="308.1" y1="291.5" x2="311.1" y2="291.5" stroke="#f06ad8" stroke-width="0.9"/>
<rect x="307.9" y="291.83" width="3.4" height="3.4" fill="#f06ad8"/>
<line x1="319.5" y1="297.17" x2="319.5" y2="291.1" stroke="#f06ad8" stroke-width="0.9"/>
<line x1="317.8" y1="291.5" x2="320.8" y2="291.5" stroke="#f06ad8" stroke-width="0.9"/>
<rect x="317.6" y="292.43" width="3.4" height="3.4" fill="#f06ad8"/>
<line x1="329.5" y1="298.99" x2="329.5" y2="296.56" stroke="#f06ad8" stroke-width="0.9"/>
<line x1="327.5" y1="296.5" x2="330.5" y2="296.5" stroke="#f06ad8" stroke-width="0.9"/>
<rect x="327.3" y="296.08" width="3.4" height="3.4" fill="#f06ad8"/>
<line x1="208.5" y1="363.5" x2="219.2" y2="363.5" stroke="#111" stroke-width="1.1"/>
<circle cx="214.2" cy="363.8" r="1.7" fill="#111"/>
<text x="224.6" y="367" font-size="8" stroke="#000" stroke-width="0.21" textLength="73.5" lengthAdjust="spacingAndGlyphs">HSC3-empty vector-IC</text>
<text x="298.4" y="368.6" font-size="5.4" stroke="#000" stroke-width="0.08" textLength="5.3" lengthAdjust="spacingAndGlyphs">50</text>
<text x="308" y="367" font-size="7.2" stroke="#000" stroke-width="0.15" fill-opacity="0.8" textLength="24.2" lengthAdjust="spacingAndGlyphs">(µmol/L)</text>
<text x="335" y="367" font-size="8" stroke="#000" stroke-width="0.21" textLength="23.6" lengthAdjust="spacingAndGlyphs">= 0.082</text>
<line x1="208.5" y1="374.5" x2="219.2" y2="374.5" stroke="#1db81d" stroke-width="1.1"/>
<path d="M214.2 373 L212.4 376 L216 376 Z" stroke="none" stroke-width="0" fill="#1db81d"/>
<text x="224.6" y="377.9" font-size="8" stroke="#000" stroke-width="0.21" textLength="61.4" lengthAdjust="spacingAndGlyphs">HSC3-YAP WT-IC</text>
<text x="286.3" y="379.5" font-size="5.4" stroke="#000" stroke-width="0.08" textLength="5.3" lengthAdjust="spacingAndGlyphs">50</text>
<text x="293.6" y="377.9" font-size="7.2" stroke="#000" stroke-width="0.15" fill-opacity="0.8" textLength="24.7" lengthAdjust="spacingAndGlyphs">(µmol/L)</text>
<text x="320.6" y="377.9" font-size="8" stroke="#000" stroke-width="0.21" textLength="23.4" lengthAdjust="spacingAndGlyphs">= 0.176</text>
<line x1="208.5" y1="385.5" x2="219.2" y2="385.5" stroke="#f06ad8" stroke-width="1.1"/>
<rect x="212.6" y="383.7" width="3.2" height="3.2" fill="#f06ad8"/>
<text x="224.6" y="388.5" font-size="8" stroke="#000" stroke-width="0.21" textLength="63.2" lengthAdjust="spacingAndGlyphs">HSC3-YAP 5SA-IC</text>
<text x="288.1" y="390.1" font-size="5.4" stroke="#000" stroke-width="0.08" textLength="5.3" lengthAdjust="spacingAndGlyphs">50</text>
<text x="295.4" y="388.5" font-size="7.2" stroke="#000" stroke-width="0.15" fill-opacity="0.8" textLength="24.9" lengthAdjust="spacingAndGlyphs">(µmol/L)</text>
<text x="321.8" y="388.5" font-size="8" stroke="#000" stroke-width="0.21" textLength="23.2" lengthAdjust="spacingAndGlyphs">=30.42</text>
<text x="366.8" y="12.6" font-size="13.8" font-weight="bold" stroke="#000" stroke-width="0.4">H</text>
<text x="434.1" y="9.2" font-size="7.4" font-weight="bold">Detroit562</text>
<text x="427.2" y="45.1" font-size="6.8" stroke="#000" stroke-width="0.13" transform="rotate(-50 427.2 45.1)">sgNT</text>
<text x="451.8" y="45.1" font-size="6.8" stroke="#000" stroke-width="0.13" transform="rotate(-50 451.8 45.1)">YAP sg#2</text>
<text x="477.8" y="45.1" font-size="6.8" stroke="#000" stroke-width="0.13" transform="rotate(-50 477.8 45.1)">YAP sg#5</text>
<rect x="415.2" y="46.4" width="79.1" height="11.9" fill="url(#boxg)" stroke="#3c3c3c" stroke-width="1.1"/>
<rect x="415.2" y="60.4" width="79.1" height="13.3" fill="url(#boxg)" stroke="#3c3c3c" stroke-width="1.1"/>
<rect x="415.7" y="58.3" width="78.1" height="2.1" fill="#a8a8a8"/>
<rect x="418.5" y="48.9" width="18" height="6.6" rx="2.4" fill="#030303" filter="url(#bl045)"/>
<rect x="443.7" y="51.7" width="18.3" height="2.6" rx="1.3" fill="#d2d2d2" filter="url(#bl08)"/>
<rect x="470.6" y="51.5" width="17.3" height="2.6" rx="1.3" fill="#bcbcbc" filter="url(#bl08)"/>
<path d="M419 65.2 Q428 67.8 436.5 67.6" stroke="#0c0c0c" stroke-width="1.9" fill="none" filter="url(#bl045)"/>
<path d="M444 68.4 Q453 69.4 462 68.7" stroke="#0c0c0c" stroke-width="1.7" fill="none" filter="url(#bl045)"/>
<path d="M470.8 70.1 Q479 71.6 488 70.3" stroke="#050505" stroke-width="2.4" fill="none" filter="url(#bl045)"/>
<text x="496.1" y="54.9" font-size="6.8" stroke="#000" stroke-width="0.13" textLength="12.3" lengthAdjust="spacingAndGlyphs">YAP</text>
<text x="496" y="69.5" font-size="7" stroke="#000" stroke-width="0.14">Vinculin</text>
<text x="368" y="105.9" font-size="13.8" font-weight="bold" stroke="#000" stroke-width="0.4">I</text>
<rect x="418" y="100.2" width="8.9" height="4.4" fill="#000"/>
<text x="430.7" y="104.5" font-size="5.7" stroke="#000" stroke-width="0.08">Detroit 562 sgNT</text>
<rect x="418" y="108.9" width="8.9" height="4.4" fill="#c6c6c6"/>
<text x="430.7" y="113.2" font-size="5.7" stroke="#000" stroke-width="0.08">Detoit 562 sgRNA #2</text>
<rect x="418" y="117.6" width="8.9" height="4.4" fill="#a0a0a0"/>
<text x="430.7" y="121.9" font-size="5.7" stroke="#000" stroke-width="0.08">Detroit 562 sgRNA #5</text>
<line x1="402.5" y1="132.8" x2="402.5" y2="205.3" stroke="#333" stroke-width="0.9"/>
<line x1="402.8" y1="205.5" x2="513" y2="205.5" stroke="#333" stroke-width="0.9"/>
<line x1="400.8" y1="205.5" x2="402.8" y2="205.5" stroke="#333" stroke-width="0.9"/>
<text x="400.2" y="207.1" font-size="5.2" font-weight="bold" text-anchor="end">0.0</text>
<line x1="400.8" y1="181.5" x2="402.8" y2="181.5" stroke="#333" stroke-width="0.9"/>
<text x="400.2" y="183.1" font-size="5.2" font-weight="bold" text-anchor="end">0.5</text>
<line x1="400.8" y1="157.5" x2="402.8" y2="157.5" stroke="#333" stroke-width="0.9"/>
<text x="400.2" y="159.1" font-size="5.2" font-weight="bold" text-anchor="end">1.0</text>
<line x1="400.8" y1="133.5" x2="402.8" y2="133.5" stroke="#333" stroke-width="0.9"/>
<text x="400.2" y="135.1" font-size="5.2" font-weight="bold" text-anchor="end">1.5</text>
<text x="387.6" y="167" font-size="6" font-weight="bold" text-anchor="middle" transform="rotate(-90 387.6 167)" textLength="69" lengthAdjust="spacingAndGlyphs">Normalized mRNA level</text>
<rect x="406.8" y="157.3" width="6.7" height="48" fill="#000"/>
<line x1="410.15" y1="157.5" x2="410.15" y2="157.5" stroke="#000" stroke-width="0.9"/>
<line x1="408.48" y1="157.5" x2="411.83" y2="157.5" stroke="#000" stroke-width="0.9"/>
<rect x="416.9" y="178.9" width="6.7" height="26.4" fill="#c6c6c6"/>
<line x1="420.5" y1="178.9" x2="420.5" y2="176.5" stroke="#999" stroke-width="0.9"/>
<line x1="418.58" y1="176.5" x2="421.93" y2="176.5" stroke="#999" stroke-width="0.9"/>
<rect x="427" y="170.74" width="6.7" height="34.56" fill="#a0a0a0"/>
<line x1="430.5" y1="170.74" x2="430.5" y2="169.3" stroke="#777" stroke-width="0.9"/>
<line x1="428.68" y1="169.5" x2="432.03" y2="169.5" stroke="#777" stroke-width="0.9"/>
<rect x="444.1" y="157.3" width="6.7" height="48" fill="#000"/>
<line x1="447.5" y1="157.3" x2="447.5" y2="152.98" stroke="#000" stroke-width="0.9"/>
<line x1="445.78" y1="152.5" x2="449.13" y2="152.5" stroke="#000" stroke-width="0.9"/>
<rect x="454.2" y="182.26" width="6.7" height="23.04" fill="#c6c6c6"/>
<line x1="457.5" y1="182.26" x2="457.5" y2="177.94" stroke="#999" stroke-width="0.9"/>
<line x1="455.88" y1="177.5" x2="459.23" y2="177.5" stroke="#999" stroke-width="0.9"/>
<rect x="464.3" y="178.42" width="6.7" height="26.88" fill="#a0a0a0"/>
<line x1="467.5" y1="178.42" x2="467.5" y2="176.5" stroke="#777" stroke-width="0.9"/>
<line x1="465.98" y1="176.5" x2="469.33" y2="176.5" stroke="#777" stroke-width="0.9"/>
<rect x="481.7" y="157.3" width="6.7" height="48" fill="#000"/>
<line x1="485.5" y1="157.3" x2="485.5" y2="145.3" stroke="#000" stroke-width="0.9"/>
<line x1="483.38" y1="145.5" x2="486.73" y2="145.5" stroke="#000" stroke-width="0.9"/>
<rect x="491.8" y="195.7" width="6.7" height="9.6" fill="#c6c6c6"/>
<line x1="495.5" y1="195.7" x2="495.5" y2="195.22" stroke="#999" stroke-width="0.9"/>
<line x1="493.48" y1="195.5" x2="496.83" y2="195.5" stroke="#999" stroke-width="0.9"/>
<rect x="501.9" y="198.1" width="6.7" height="7.2" fill="#a0a0a0"/>
<line x1="505.5" y1="198.1" x2="505.5" y2="197.62" stroke="#777" stroke-width="0.9"/>
<line x1="503.57" y1="197.5" x2="506.93" y2="197.5" stroke="#777" stroke-width="0.9"/>
<line x1="420.5" y1="205.3" x2="420.5" y2="207.1" stroke="#333" stroke-width="0.9"/>
<line x1="457.5" y1="205.3" x2="457.5" y2="207.1" stroke="#333" stroke-width="0.9"/>
<line x1="495.5" y1="205.3" x2="495.5" y2="207.1" stroke="#333" stroke-width="0.9"/>
<line x1="410.6" y1="133.5" x2="431" y2="133.5" stroke="#111" stroke-width="1"/>
<line x1="410.5" y1="131.1" x2="410.5" y2="135.3" stroke="#111" stroke-width="1"/>
<line x1="431.5" y1="131.1" x2="431.5" y2="135.3" stroke="#111" stroke-width="1"/>
<text x="420.8" y="133.4" font-size="5" font-weight="bold" text-anchor="middle" fill="#111">***</text>
<line x1="410.6" y1="142.5" x2="420.2" y2="142.5" stroke="#111" stroke-width="1"/>
<line x1="410.5" y1="139.9" x2="410.5" y2="144.1" stroke="#111" stroke-width="1"/>
<line x1="420.5" y1="139.9" x2="420.5" y2="144.1" stroke="#111" stroke-width="1"/>
<text x="415.4" y="142.2" font-size="5" font-weight="bold" text-anchor="middle" fill="#111">****</text>
<line x1="447.7" y1="133.5" x2="466.9" y2="133.5" stroke="#111" stroke-width="1"/>
<line x1="447.5" y1="131.1" x2="447.5" y2="135.3" stroke="#111" stroke-width="1"/>
<line x1="466.5" y1="131.1" x2="466.5" y2="135.3" stroke="#111" stroke-width="1"/>
<text x="457.3" y="133.4" font-size="5" font-weight="bold" text-anchor="middle" fill="#111">***</text>
<line x1="447.7" y1="142.5" x2="457.8" y2="142.5" stroke="#111" stroke-width="1"/>
<line x1="447.5" y1="139.9" x2="447.5" y2="144.1" stroke="#111" stroke-width="1"/>
<line x1="457.5" y1="139.9" x2="457.5" y2="144.1" stroke="#111" stroke-width="1"/>
<text x="452.75" y="142.2" font-size="5" font-weight="bold" text-anchor="middle" fill="#111">***</text>
<line x1="485.6" y1="133.5" x2="505.5" y2="133.5" stroke="#111" stroke-width="1"/>
<line x1="485.5" y1="131.1" x2="485.5" y2="135.3" stroke="#111" stroke-width="1"/>
<line x1="505.5" y1="131.1" x2="505.5" y2="135.3" stroke="#111" stroke-width="1"/>
<text x="495.55" y="133.4" font-size="5" font-weight="bold" text-anchor="middle" fill="#111">**</text>
<line x1="485.6" y1="142.5" x2="493.2" y2="142.5" stroke="#111" stroke-width="1"/>
<line x1="485.5" y1="139.9" x2="485.5" y2="144.1" stroke="#111" stroke-width="1"/>
<line x1="493.5" y1="139.9" x2="493.5" y2="144.1" stroke="#111" stroke-width="1"/>
<text x="489.4" y="142.2" font-size="5" font-weight="bold" text-anchor="middle" fill="#111">**</text>
<text x="413.2" y="214" font-size="6.2" font-weight="bold" textLength="12.8" lengthAdjust="spacingAndGlyphs">CTGF</text>
<text x="445.7" y="214" font-size="6.2" font-weight="bold" textLength="22.8" lengthAdjust="spacingAndGlyphs">ANKRD1</text>
<text x="487.2" y="214" font-size="6.2" font-weight="bold" textLength="15" lengthAdjust="spacingAndGlyphs">NPPB</text>
<text x="429.5" y="223.2" font-size="6.6" font-weight="bold" textLength="53.1" lengthAdjust="spacingAndGlyphs">YAP Target genes</text>
<text x="366.4" y="238.5" font-size="13.8" font-weight="bold" stroke="#000" stroke-width="0.4">J</text>
<line x1="388.5" y1="245.9" x2="388.5" y2="332.3" stroke="#111" stroke-width="1.1"/>
<line x1="388.1" y1="332.5" x2="515" y2="332.5" stroke="#111" stroke-width="1.1"/>
<line x1="384.3" y1="332.5" x2="388.1" y2="332.5" stroke="#111" stroke-width="1.1"/>
<text x="382.2" y="334.5" font-size="6.1" font-weight="bold" text-anchor="end">0</text>
<line x1="384.3" y1="303.5" x2="388.1" y2="303.5" stroke="#111" stroke-width="1.1"/>
<text x="382.2" y="305.87" font-size="6.1" font-weight="bold" text-anchor="end">50</text>
<line x1="384.3" y1="275.5" x2="388.1" y2="275.5" stroke="#111" stroke-width="1.1"/>
<text x="382.2" y="277.23" font-size="6.1" font-weight="bold" text-anchor="end">100</text>
<line x1="384.3" y1="246.5" x2="388.1" y2="246.5" stroke="#111" stroke-width="1.1"/>
<text x="382.2" y="248.59" font-size="6.1" font-weight="bold" text-anchor="end">150</text>
<line x1="388.5" y1="332.3" x2="388.5" y2="334.4" stroke="#111" stroke-width="1.1"/>
<line x1="419.5" y1="332.3" x2="419.5" y2="334.4" stroke="#111" stroke-width="1.1"/>
<line x1="451.5" y1="332.3" x2="451.5" y2="334.4" stroke="#111" stroke-width="1.1"/>
<line x1="482.5" y1="332.3" x2="482.5" y2="334.4" stroke="#111" stroke-width="1.1"/>
<line x1="514.5" y1="332.3" x2="514.5" y2="334.4" stroke="#111" stroke-width="1.1"/>
<text x="388.1" y="343.6" font-size="6.8" font-weight="bold" text-anchor="middle">-6</text>
<text x="419.7" y="343.6" font-size="6.8" font-weight="bold" text-anchor="middle">-4</text>
<text x="451.3" y="343.6" font-size="6.8" font-weight="bold" text-anchor="middle">-2</text>
<text x="482.9" y="343.6" font-size="6.8" font-weight="bold" text-anchor="middle">0</text>
<text x="514.5" y="343.6" font-size="6.8" font-weight="bold" text-anchor="middle">2</text>
<text x="412.3" y="352.6" font-size="7.1" font-weight="bold" textLength="75.4" lengthAdjust="spacingAndGlyphs">Trametinib (log µmol/L)</text>
<text x="367.8" y="288.9" font-size="7.6" font-weight="bold" text-anchor="middle" transform="rotate(-90 367.8 288.9)" textLength="47.5" lengthAdjust="spacingAndGlyphs">Relative (ATP)</text>
<path d="M403.9 276.01 L405.48 276.14 L407.06 276.27 L408.64 276.43 L410.22 276.6 L411.8 276.79 L413.38 277.01 L414.96 277.25 L416.54 277.52 L418.12 277.83 L419.7 278.16 L421.28 278.54 L422.86 278.95 L424.44 279.41 L426.02 279.92 L427.6 280.49 L429.18 281.11 L430.76 281.79 L432.34 282.53 L433.92 283.35 L435.5 284.24 L437.08 285.2 L438.66 286.24 L440.24 287.36 L441.82 288.56 L443.4 289.84 L444.98 291.19 L446.56 292.61 L448.14 294.1 L449.72 295.66 L451.3 297.26 L452.88 298.91 L454.46 300.59 L456.04 302.29 L457.62 304.01 L459.2 305.72 L460.78 307.41 L462.36 309.08 L463.94 310.72 L465.52 312.3 L467.1 313.83 L468.68 315.3 L470.26 316.69 L471.84 318.01 L473.42 319.26 L475 320.43 L476.58 321.51 L478.16 322.52 L479.74 323.46 L481.32 324.31 L482.9 325.1 L484.48 325.82 L486.06 326.48 L487.64 327.08 L489.22 327.62 L490.8 328.11 L492.38 328.55 L493.96 328.95 L495.54 329.31 L497.12 329.63 L498.7 329.92" stroke="#b060c8" stroke-width="1" fill="none"/>
<path d="M403.9 277.26 L405.48 277.43 L407.06 277.6 L408.64 277.79 L410.22 277.99 L411.8 278.2 L413.38 278.43 L414.96 278.67 L416.54 278.93 L418.12 279.21 L419.7 279.5 L421.28 279.82 L422.86 280.15 L424.44 280.5 L426.02 280.88 L427.6 281.28 L429.18 281.7 L430.76 282.15 L432.34 282.62 L433.92 283.12 L435.5 283.64 L437.08 284.2 L438.66 284.78 L440.24 285.39 L441.82 286.03 L443.4 286.7 L444.98 287.4 L446.56 288.13 L448.14 288.89 L449.72 289.67 L451.3 290.49 L452.88 291.34 L454.46 292.21 L456.04 293.11 L457.62 294.03 L459.2 294.98 L460.78 295.95 L462.36 296.94 L463.94 297.94 L465.52 298.96 L467.1 299.99 L468.68 301.04 L470.26 302.08 L471.84 303.14 L473.42 304.19 L475 305.25 L476.58 306.29 L478.16 307.34 L479.74 308.37 L481.32 309.39 L482.9 310.39 L484.48 311.38 L486.06 312.35 L487.64 313.3 L489.22 314.22 L490.8 315.12 L492.38 315.99 L493.96 316.84 L495.54 317.66 L497.12 318.44 L498.7 319.2" stroke="#3a9a3a" stroke-width="1" fill="none"/>
<path d="M403.9 277.47 L405.48 277.61 L407.06 277.76 L408.64 277.92 L410.22 278.09 L411.8 278.27 L413.38 278.46 L414.96 278.66 L416.54 278.87 L418.12 279.09 L419.7 279.32 L421.28 279.56 L422.86 279.82 L424.44 280.09 L426.02 280.37 L427.6 280.67 L429.18 280.98 L430.76 281.3 L432.34 281.65 L433.92 282 L435.5 282.38 L437.08 282.77 L438.66 283.18 L440.24 283.61 L441.82 284.06 L443.4 284.52 L444.98 285 L446.56 285.51 L448.14 286.03 L449.72 286.57 L451.3 287.13 L452.88 287.71 L454.46 288.31 L456.04 288.93 L457.62 289.57 L459.2 290.23 L460.78 290.91 L462.36 291.61 L463.94 292.32 L465.52 293.05 L467.1 293.8 L468.68 294.56 L470.26 295.34 L471.84 296.13 L473.42 296.94 L475 297.75 L476.58 298.58 L478.16 299.41 L479.74 300.25 L481.32 301.1 L482.9 301.95 L484.48 302.81 L486.06 303.67 L487.64 304.52 L489.22 305.38 L490.8 306.23 L492.38 307.08 L493.96 307.92 L495.54 308.75 L497.12 309.58 L498.7 310.39" stroke="#3a4aa0" stroke-width="1" fill="none"/>
<circle cx="403.9" cy="275.03" r="2" fill="#1c1cb4"/>
<circle cx="435.5" cy="277.32" r="2" fill="#1c1cb4"/>
<circle cx="443.4" cy="283.05" r="2" fill="#1c1cb4"/>
<circle cx="451.3" cy="287.06" r="2" fill="#1c1cb4"/>
<circle cx="459.2" cy="293.93" r="2" fill="#1c1cb4"/>
<circle cx="467.1" cy="300.23" r="2" fill="#1c1cb4"/>
<circle cx="475" cy="303.09" r="2" fill="#1c1cb4"/>
<circle cx="482.9" cy="305.96" r="2" fill="#1c1cb4"/>
<circle cx="490.8" cy="303.67" r="2" fill="#1c1cb4"/>
<circle cx="498.7" cy="304.24" r="2" fill="#1c1cb4"/>
<path d="M435.5 276.94 L433.4 280.54 L437.6 280.54 Z" stroke="none" stroke-width="0" fill="#2aa52a"/>
<path d="M443.4 281.52 L441.3 285.12 L445.5 285.12 Z" stroke="none" stroke-width="0" fill="#2aa52a"/>
<path d="M451.3 287.82 L449.2 291.42 L453.4 291.42 Z" stroke="none" stroke-width="0" fill="#2aa52a"/>
<path d="M459.2 298.13 L457.1 301.73 L461.3 301.73 Z" stroke="none" stroke-width="0" fill="#2aa52a"/>
<path d="M467.1 304.43 L465 308.03 L469.2 308.03 Z" stroke="none" stroke-width="0" fill="#2aa52a"/>
<path d="M475 306.72 L472.9 310.32 L477.1 310.32 Z" stroke="none" stroke-width="0" fill="#2aa52a"/>
<path d="M482.9 309.58 L480.8 313.18 L485 313.18 Z" stroke="none" stroke-width="0" fill="#2aa52a"/>
<path d="M490.8 309.58 L488.7 313.18 L492.9 313.18 Z" stroke="none" stroke-width="0" fill="#2aa52a"/>
<path d="M498.7 311.87 L496.6 315.47 L500.8 315.47 Z" stroke="none" stroke-width="0" fill="#2aa52a"/>
<path d="M435.5 281.71 L433.4 278.11 L437.6 278.11 Z" stroke="none" stroke-width="0" fill="#9b30c8"/>
<path d="M451.3 300.04 L449.2 296.44 L453.4 296.44 Z" stroke="none" stroke-width="0" fill="#9b30c8"/>
<path d="M459.2 312.64 L457.1 309.04 L461.3 309.04 Z" stroke="none" stroke-width="0" fill="#9b30c8"/>
<path d="M467.1 320.66 L465 317.06 L469.2 317.06 Z" stroke="none" stroke-width="0" fill="#9b30c8"/>
<path d="M475 322.95 L472.9 319.35 L477.1 319.35 Z" stroke="none" stroke-width="0" fill="#9b30c8"/>
<path d="M482.9 323.52 L480.8 319.92 L485 319.92 Z" stroke="none" stroke-width="0" fill="#9b30c8"/>
<path d="M490.8 323.52 L488.7 319.92 L492.9 319.92 Z" stroke="none" stroke-width="0" fill="#9b30c8"/>
<path d="M498.7 324.66 L496.6 321.06 L500.8 321.06 Z" stroke="none" stroke-width="0" fill="#9b30c8"/>
<line x1="378.5" y1="363.5" x2="388.5" y2="363.5" stroke="#1c1cb4" stroke-width="0.9"/>
<circle cx="384.1" cy="363" r="1.6" fill="#1c1cb4"/>
<text x="393.1" y="366" font-size="7.1" stroke="#000" stroke-width="0.15" textLength="54.5" lengthAdjust="spacingAndGlyphs">Detroit sgNT- IC</text>
<text x="447.9" y="367.4" font-size="5.3" stroke="#000" stroke-width="0.08" textLength="5.6" lengthAdjust="spacingAndGlyphs">50</text>
<text x="454.4" y="366" font-size="6.6" stroke="#000" stroke-width="0.11" fill-opacity="0.8" textLength="23.4" lengthAdjust="spacingAndGlyphs">(µmol/L)</text>
<text x="479.8" y="366" font-size="7.1" stroke="#000" stroke-width="0.15" textLength="17.7" lengthAdjust="spacingAndGlyphs">= 1.21</text>
<line x1="378.5" y1="372.5" x2="388.5" y2="372.5" stroke="#2aa52a" stroke-width="0.9"/>
<path d="M384.1 370.6 L382.4 373.4 L385.8 373.4 Z" stroke="none" stroke-width="0" fill="#2aa52a"/>
<text x="393.1" y="375.2" font-size="7.1" stroke="#000" stroke-width="0.15" textLength="64.6" lengthAdjust="spacingAndGlyphs">Detroit sgRNA #2-IC</text>
<text x="458" y="376.6" font-size="5.3" stroke="#000" stroke-width="0.08" textLength="5.6" lengthAdjust="spacingAndGlyphs">50</text>
<text x="466.4" y="375.2" font-size="6.6" stroke="#000" stroke-width="0.11" fill-opacity="0.8" textLength="24.5" lengthAdjust="spacingAndGlyphs">(µmol/L)</text>
<text x="493.4" y="375.2" font-size="7.1" stroke="#000" stroke-width="0.15" textLength="23.1" lengthAdjust="spacingAndGlyphs">= 0.174</text>
<line x1="378.5" y1="380.5" x2="388.5" y2="380.5" stroke="#9b30c8" stroke-width="0.9"/>
<path d="M384.1 382.4 L382.4 379.6 L385.8 379.6 Z" stroke="none" stroke-width="0" fill="#9b30c8"/>
<text x="393.1" y="383.8" font-size="7.1" stroke="#000" stroke-width="0.15" textLength="64.1" lengthAdjust="spacingAndGlyphs">Detroit sgRNA #5-IC</text>
<text x="457.5" y="385.2" font-size="5.3" stroke="#000" stroke-width="0.08" textLength="5.6" lengthAdjust="spacingAndGlyphs">50</text>
<text x="466.5" y="383.8" font-size="6.6" stroke="#000" stroke-width="0.11" fill-opacity="0.8" textLength="24.6" lengthAdjust="spacingAndGlyphs">(µmol/L)</text>
<text x="493.6" y="383.8" font-size="7.1" stroke="#000" stroke-width="0.15" textLength="23.1" lengthAdjust="spacingAndGlyphs">= 0.019</text>
</svg>
</body></html>
